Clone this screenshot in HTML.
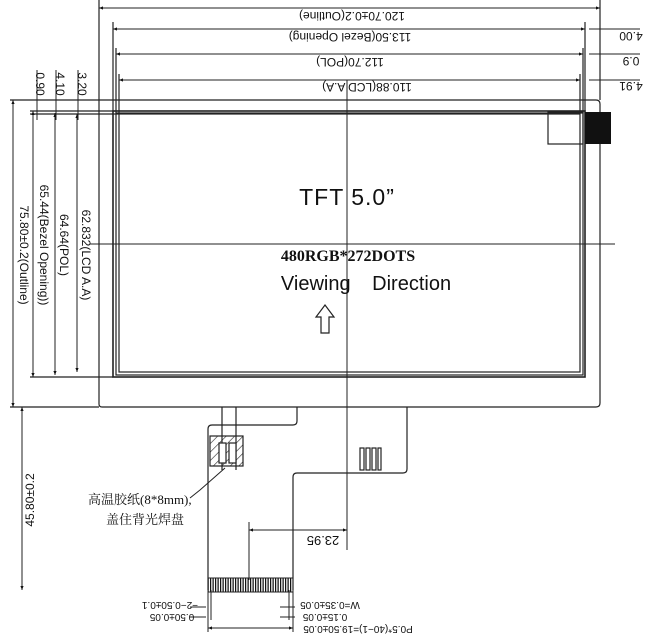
<!DOCTYPE html>
<html><head><meta charset="utf-8"><style>
body{margin:0;background:#fff}
svg{display:block}
text{font-family:"Liberation Sans",sans-serif;fill:#111}
</style></head><body>
<svg width="650" height="641" viewBox="0 0 650 641" xmlns="http://www.w3.org/2000/svg">
<defs>
<marker id="a" viewBox="0 0 10 10" refX="10" refY="5" markerWidth="6" markerHeight="4" orient="auto-start-reverse"><path d="M0,1 L10,5 L0,9z" fill="#111"/></marker>
<pattern id="h" width="6" height="6" patternUnits="userSpaceOnUse" patternTransform="rotate(45)"><line x1="0" y1="0" x2="0" y2="6" stroke="#222" stroke-width="1.2"/></pattern>
<pattern id="v" width="2.5" height="10" patternUnits="userSpaceOnUse"><line x1="0.6" y1="0" x2="0.6" y2="10" stroke="#111" stroke-width="1.3"/></pattern>
</defs>
<g stroke="#222" fill="none" stroke-width="1.2">
<path d="M99,0 V404 Q99,407 102,407 H596 Q600,407 600,403 V104 Q600,100 596,100 H99"/>
<line x1="600" y1="0" x2="600" y2="100"/>
<rect x="113" y="111" width="472" height="266" stroke-width="1.6"/>
<rect x="116" y="113" width="467" height="262"/>
<rect x="119" y="114" width="461" height="258"/>
<line x1="30" y1="111" x2="113" y2="111"/>
<line x1="30" y1="114" x2="119" y2="114"/>
<line x1="30" y1="377" x2="113" y2="377"/>
<line x1="10" y1="100" x2="99" y2="100"/>
<line x1="10" y1="407" x2="99" y2="407"/>
<line x1="113" y1="22" x2="113" y2="111"/>
<line x1="116" y1="48" x2="116" y2="113"/>
<line x1="119" y1="74" x2="119" y2="114"/>
<line x1="585" y1="22" x2="585" y2="111"/>
<line x1="583" y1="48" x2="583" y2="113"/>
<line x1="580" y1="74" x2="580" y2="114"/>
<line x1="347" y1="80" x2="347" y2="550" stroke-width="1"/>
<line x1="90" y1="244" x2="615" y2="244" stroke-width="1"/>
<rect x="548" y="112" width="35" height="32"/>
</g>
<rect x="585" y="112" width="26" height="32" fill="#111"/>
<g stroke="#222" stroke-width="1" fill="none" marker-start="url(#a)" marker-end="url(#a)">
<line x1="99" y1="8" x2="600" y2="8"/>
<line x1="113" y1="29" x2="585" y2="29"/>
<line x1="116" y1="54" x2="583" y2="54"/>
<line x1="119" y1="80" x2="580" y2="80"/>
<line x1="13" y1="100" x2="13" y2="407"/>
<line x1="33" y1="111" x2="33" y2="377"/>
<line x1="55" y1="113" x2="55" y2="375"/>
<line x1="77" y1="114" x2="77" y2="372"/>
<line x1="22" y1="407" x2="22" y2="590"/>
<line x1="249" y1="530" x2="347" y2="530"/>
<line x1="208" y1="628" x2="293" y2="628"/>
</g>
<g stroke="#222" stroke-width="1">
<line x1="589" y1="29" x2="640" y2="29"/><line x1="589" y1="54" x2="640" y2="54"/><line x1="589" y1="80" x2="640" y2="80"/>
<line x1="37" y1="70" x2="37" y2="120"/><line x1="56" y1="70" x2="56" y2="120"/><line x1="78" y1="70" x2="78" y2="120"/>
<line x1="249" y1="522" x2="249" y2="580"/>
</g>
<g stroke="#222" fill="none" stroke-width="1.2">
<path d="M208,590 V429 Q208,425 212,425 H293 Q297,425 297,421 V407"/>
<path d="M293,590 V477 Q293,473 297,473 H403 Q407,473 407,469 V407"/>
<line x1="222" y1="407" x2="222" y2="470"/><line x1="236" y1="407" x2="236" y2="470"/>
<rect x="210" y="436" width="33" height="30" fill="url(#h)"/>
<rect x="219" y="443" width="7" height="20" fill="#fff"/>
<rect x="229" y="443" width="7" height="20" fill="#fff"/>
<rect x="360" y="448" width="4" height="22"/><rect x="366" y="448" width="4" height="22"/><rect x="372" y="448" width="4" height="22"/><rect x="378" y="448" width="3" height="22"/>
<path d="M190,498 L200,490 L225,468" stroke-width="1"/>
<line x1="208" y1="590" x2="208" y2="632" stroke-width="1"/><line x1="293" y1="590" x2="293" y2="632" stroke-width="1"/>
<line x1="211" y1="590" x2="211" y2="620" stroke-width="1"/><line x1="289" y1="590" x2="289" y2="620" stroke-width="1"/>
<line x1="190" y1="607" x2="206" y2="607" stroke-width="1"/><line x1="190" y1="617" x2="206" y2="617" stroke-width="1"/>
<line x1="280" y1="607" x2="295" y2="607" stroke-width="1"/><line x1="280" y1="617" x2="295" y2="617" stroke-width="1"/>
</g>
<rect x="208" y="578" width="85" height="14" fill="url(#v)" stroke="#222"/>
<text x="347" y="205" font-size="23" text-anchor="middle" style="letter-spacing:1px">TFT  5.0”</text>
<text x="348" y="261" font-size="16" text-anchor="middle" font-weight="bold" style="font-family:'Liberation Serif',serif">480RGB*272DOTS</text>
<text x="366" y="290" font-size="20" text-anchor="middle" style="word-spacing:16px">Viewing Direction</text>
<path d="M325,305 L334,317 H329 V333 H321 V317 H316 Z" fill="none" stroke="#222" stroke-width="1.2"/>
<g font-size="12" text-anchor="middle">
<text transform="rotate(180 352 17)" x="352" y="22">120.70±0.2(Outline)</text>
<text transform="rotate(180 350 38)" x="350" y="43">113.50(Bezel Opening)</text>
<text transform="rotate(180 350 63)" x="350" y="68">112.70(POL)</text>
<text transform="rotate(180 367 88)" x="367" y="93">110.88(LCD A.A)</text>
<text transform="rotate(180 631 37)" x="631" y="42">4.00</text>
<text transform="rotate(180 631 62)" x="631" y="67">0.9</text>
<text transform="rotate(180 631 87)" x="631" y="92">4.91</text>
<text transform="rotate(180 323 541)" x="323" y="546" font-size="13">23.95</text>
</g>
<g font-size="12" text-anchor="middle">
<text transform="rotate(90 24 255)" x="24" y="259">75.80±0.2(Outline)</text>
<text transform="rotate(90 44 245)" x="44" y="249">65.44(Bezel Opening))</text>
<text transform="rotate(90 64 245)" x="64" y="249">64.64(POL)</text>
<text transform="rotate(90 86 255)" x="86" y="259">62.832(LCD A.A)</text>
<text transform="rotate(90 40 84)" x="40" y="88">0.90</text>
<text transform="rotate(90 60 84)" x="60" y="88">4.10</text>
<text transform="rotate(90 82 84)" x="82" y="88">3.20</text>
<text transform="rotate(-90 30 500)" x="30" y="504">45.80±0.2</text>
</g>
<text x="88" y="504" font-size="13" style="font-family:'Liberation Serif','Noto Serif CJK SC',serif">高温胶纸(8*8mm),</text>
<text x="106" y="524" font-size="13" style="font-family:'Liberation Serif','Noto Serif CJK SC',serif">盖住背光焊盘</text>
<g font-size="10">
<text transform="rotate(180 170 606)" x="170" y="610" text-anchor="middle">−2−0.50±0.1</text>
<text transform="rotate(180 172 618)" x="172" y="622" text-anchor="middle">0.50±0.05</text>
<text transform="rotate(180 330 606)" x="330" y="610" text-anchor="middle">W=0.35±0.05</text>
<text transform="rotate(180 325 618)" x="325" y="622" text-anchor="middle">0.15±0.05</text>
<text transform="rotate(180 358 630)" x="358" y="634" text-anchor="middle">P0.5*(40−1)=19.50±0.05</text>
</g>
</svg>
</body></html>
